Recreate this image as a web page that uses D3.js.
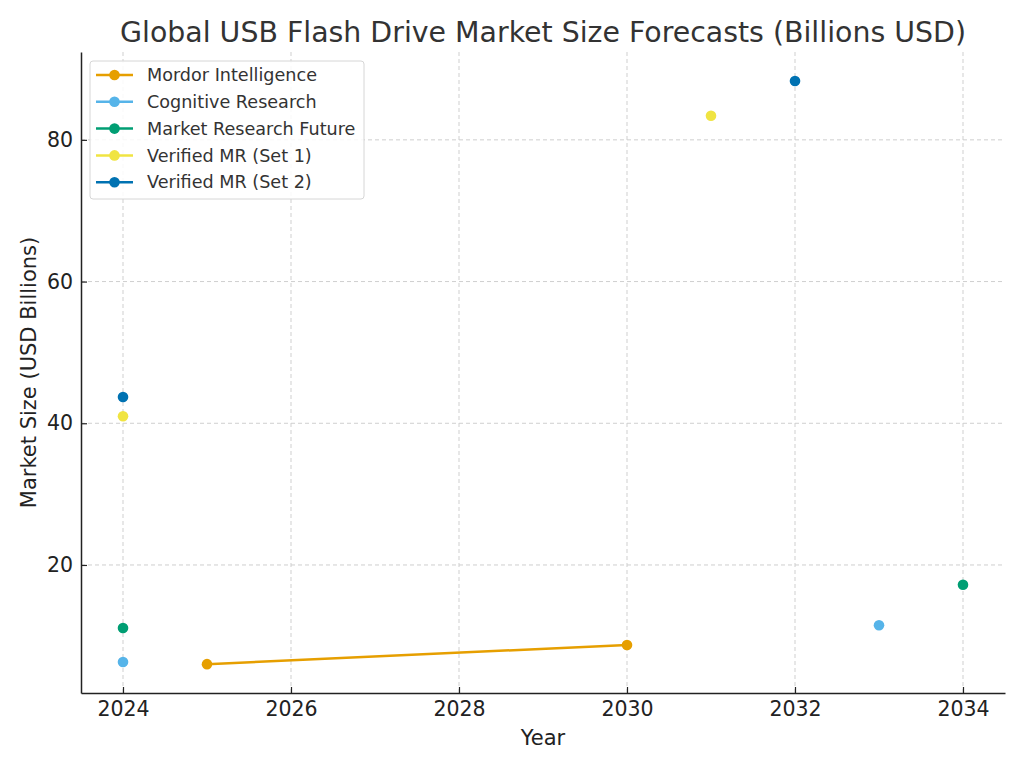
<!DOCTYPE html>
<html>
<head>
<meta charset="utf-8">
<script src="https://cdn.jsdelivr.net/npm/d3@7"></script>
<style>
  body { margin: 0; background: #fff; }
  text { font-family: "DejaVu Sans", sans-serif; }
</style>
</head>
<body>
<div id="chart"></div>
<script>
const WIDTH = 1024;
const HEIGHT = 768;
const MARGIN = { top: 52, right: 19, bottom: 75, left: 81 };

// data, nulls break the line like NaN gaps do
const years = [2024, 2025, 2030, 2031, 2032, 2033, 2034];
const sources = ['Mordor Intelligence', 'Cognitive Research', 'Market Research Future', 'Verified MR (Set 1)', 'Verified MR (Set 2)'];
const mordor = [null, 6.0, 8.7, null, null, null, null];
const cognitive = [6.3, null, null, null, null, 11.5, null];
const mrf = [11.1, null, null, null, null, null, 17.2];
const verified1 = [41.0, null, null, 83.4, null, null, null];
const verified2 = [43.7, null, null, null, 88.3, null, null];
const xTicks = [2024, 2026, 2028, 2030, 2032, 2034];
const yTicks = [20, 40, 60, 80];

const colors = ['#E69F00', '#56B4E9', '#009E73', '#F0E442', '#0072B2'];
const seriesValues = [mordor, cognitive, mrf, verified1, verified2];

const series = sources.map((name, i) => ({
    name,
    color: colors[i],
    points: years.map((y, j) => ({ year: y, value: seriesValues[i][j] }))
}));

const svg = d3.select('#chart')
    .append('svg')
        .attr('width', WIDTH)
        .attr('height', HEIGHT);

const innerW = WIDTH - MARGIN.left - MARGIN.right;
const innerH = HEIGHT - MARGIN.top - MARGIN.bottom;

const x = d3.scaleLinear()
    .domain([2023.5, 2034.5])
    .range([MARGIN.left, MARGIN.left + innerW]);

const y = d3.scaleLinear()
    .domain([1.93, 92.4])
    .range([MARGIN.top + innerH, MARGIN.top]);

// grid
svg.append('g')
    .selectAll('line')
    .data(xTicks)
    .enter()
    .append('line')
    .attr('x1', d => x(d)).attr('x2', d => x(d))
    .attr('y1', MARGIN.top).attr('y2', MARGIN.top + innerH)
    .attr('stroke', '#cfcfcf')
    .attr('stroke-dasharray', '4,3');

svg.append('g')
    .selectAll('line')
    .data(yTicks)
    .enter()
    .append('line')
    .attr('x1', MARGIN.left).attr('x2', MARGIN.left + innerW)
    .attr('y1', d => y(d)).attr('y2', d => y(d))
    .attr('stroke', '#cfcfcf')
    .attr('stroke-dasharray', '4,3');

// axes, ticks point inward like the original
const xAxis = svg.append('g')
    .attr('transform', `translate(0, ${MARGIN.top + innerH})`)
    .call(d3.axisBottom(x).tickValues(xTicks).tickFormat(d3.format('d'))
        .tickSizeInner(-6).tickSizeOuter(0).tickPadding(8));

const yAxis = svg.append('g')
    .attr('transform', `translate(${MARGIN.left}, 0)`)
    .call(d3.axisLeft(y).tickValues(yTicks)
        .tickSizeInner(-6).tickSizeOuter(0).tickPadding(8));

[xAxis, yAxis].forEach(ax => {
    ax.select('.domain').attr('stroke', '#222').attr('stroke-width', 1.5);
    ax.selectAll('.tick line').attr('stroke', '#222').attr('stroke-width', 1.2);
    ax.selectAll('.tick text')
        .attr('fill', '#222')
        .style('font-size', '20.5px')
        .style('font-family', '"DejaVu Sans", sans-serif');
});

// lines + markers
const line = d3.line()
    .defined(d => d.value !== null)
    .x(d => x(d.year))
    .y(d => y(d.value));

const groups = svg.selectAll('.series')
    .data(series)
    .enter()
    .append('g')
    .attr('class', 'series');

groups.append('path')
    .attr('d', d => line(d.points))
    .attr('fill', 'none')
    .attr('stroke', d => d.color)
    .attr('stroke-width', 2.5);

groups.selectAll('circle')
    .data(d => d.points.filter(p => p.value !== null).map(p => ({ ...p, color: d.color })))
    .enter()
    .append('circle')
    .attr('cx', d => x(d.year))
    .attr('cy', d => y(d.value))
    .attr('r', 5.3)
    .attr('fill', d => d.color);

// title and labels
svg.append('text')
    .attr('x', MARGIN.left + innerW / 2)
    .attr('y', 42)
    .attr('text-anchor', 'middle')
    .attr('fill', '#333')
    .style('font-size', '28.4px')
    .text('Global USB Flash Drive Market Size Forecasts (Billions USD)');

svg.append('text')
    .attr('x', MARGIN.left + innerW / 2)
    .attr('y', 745)
    .attr('text-anchor', 'middle')
    .attr('fill', '#222')
    .style('font-size', '21px')
    .text('Year');

svg.append('text')
    .attr('transform', `translate(36, ${MARGIN.top + innerH / 2}) rotate(-90)`)
    .attr('text-anchor', 'middle')
    .attr('fill', '#222')
    .style('font-size', '21px')
    .text('Market Size (USD Billions)');

// legend
const legend = svg.append('g')
    .attr('transform', 'translate(90, 61)');

legend.append('rect')
    .attr('width', 274)
    .attr('height', 138)
    .attr('rx', 3)
    .attr('fill', 'white')
    .attr('fill-opacity', 0.85)
    .attr('stroke', '#d6d6d6');

const items = legend.selectAll('.item')
    .data(series)
    .enter()
    .append('g')
    .attr('transform', (d, i) => `translate(0, ${14 + i * 26.8})`);

items.append('line')
    .attr('x1', 6).attr('x2', 43)
    .attr('stroke', d => d.color)
    .attr('stroke-width', 2.5);

items.append('circle')
    .attr('cx', 24.5)
    .attr('r', 5.3)
    .attr('fill', d => d.color);

items.append('text')
    .attr('x', 57)
    .attr('dy', '0.35em')
    .attr('fill', '#333')
    .style('font-size', '17.6px')
    .text(d => d.name);
</script>
</body>
</html>
